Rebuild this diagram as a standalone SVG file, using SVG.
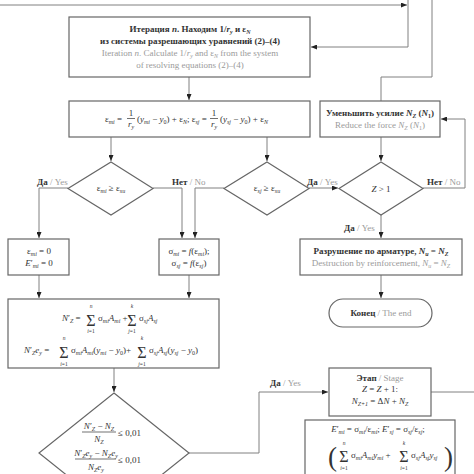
<svg xmlns="http://www.w3.org/2000/svg" width="474" height="474" viewBox="0 0 474 474">
<style>
.t{font-family:"Liberation Serif",serif;font-size:9px;fill:#333}
.c{text-anchor:middle}
.g{fill:#9a9a9a}
.b{font-weight:bold}
.i{font-style:italic}
.box{fill:#fff;stroke:#666;stroke-width:1.2}
.ln{fill:none;stroke:#808080;stroke-width:1}
.bar{stroke:#333;stroke-width:0.7}
.sg{font-size:16px;text-anchor:middle}
.lim{font-size:5.5px;text-anchor:middle}
.par{font-size:27px}
</style>
<defs>
<marker id="ah" markerWidth="6" markerHeight="5" refX="6" refY="2.5" orient="auto" markerUnits="userSpaceOnUse">
<path d="M0,0 L6,2.5 L0,5 z" fill="#222"/>
</marker>
</defs>
<rect width="474" height="474" fill="#fff"/>
<g id="connectors">
<path class="ln" d="M0,5 H407" marker-end="url(#ah)"/>
<path class="ln" d="M408,0 V47 H311" marker-end="url(#ah)"/>
<path class="ln" d="M432,0 V77 H381 V101"/>
<path class="ln" d="M189,77 V100" marker-end="url(#ah)"/>
<path class="ln" d="M111,137 V161" marker-end="url(#ah)"/>
<path class="ln" d="M267,137 V161" marker-end="url(#ah)"/>
<path class="ln" d="M68,188 H39 V238" marker-end="url(#ah)"/>
<path class="ln" d="M153,188 H182 V238" marker-end="url(#ah)"/>
<path class="ln" d="M224,188 H195 V238" marker-end="url(#ah)"/>
<path class="ln" d="M309,188 H338" marker-end="url(#ah)"/>
<path class="ln" d="M381,137 V161" marker-end="url(#ah)"/>
<path class="ln" d="M423,188 H465 V119 H441" marker-end="url(#ah)"/>
<path class="ln" d="M381,215 V238" marker-end="url(#ah)"/>
<path class="ln" d="M381,275 V298" marker-end="url(#ah)"/>
<path class="ln" d="M39,275 V298" marker-end="url(#ah)"/>
<path class="ln" d="M189,275 V298" marker-end="url(#ah)"/>
<path class="ln" d="M114,368 V392" marker-end="url(#ah)"/>
<path class="ln" d="M189,453 H259 V392 H328" marker-end="url(#ah)"/>
<path class="ln" d="M431,392 H474"/>
<text class="t" x="37" y="185"><tspan class="b">Да</tspan><tspan class="g"> / Yes</tspan></text>
<text class="t" x="172" y="185"><tspan class="b">Нет</tspan><tspan class="g"> / No</tspan></text>
<text class="t" x="307" y="185"><tspan class="b">Да</tspan><tspan class="g"> / Yes</tspan></text>
<text class="t" x="427" y="185"><tspan class="b">Нет</tspan><tspan class="g"> / No</tspan></text>
<text class="t" x="344" y="231"><tspan class="b">Да</tspan><tspan class="g"> / Yes</tspan></text>
<text class="t" x="270" y="386"><tspan class="b">Да</tspan><tspan class="g"> / Yes</tspan></text>
</g>
<g id="iteration">
<rect class="box" x="69" y="17" width="241" height="60"/>
<text class="t c b" x="190" y="32">Итерация <tspan class="i">n</tspan>. Находим 1/<tspan class="i">r</tspan><tspan class="i" font-size="6" baseline-shift="-2">y</tspan> и ε<tspan class="i" font-size="6" baseline-shift="-2">N</tspan></text>
<text class="t c b" x="190" y="44">из системы разрешающих уравнений (2)–(4)</text>
<text class="t c g" x="190" y="56">Iteration <tspan class="i">n</tspan>. Calculate 1/<tspan class="i">r</tspan><tspan class="i" font-size="6" baseline-shift="-2">y</tspan> and ε<tspan class="i" font-size="6" baseline-shift="-2">N</tspan> from the system</text>
<text class="t c g" x="190" y="68">of resolving equations (2)–(4)</text>
</g>
<g id="strain">
<rect class="box" x="69" y="101" width="241" height="36"/>
<text class="t" x="105" y="122">ε<tspan class="i" font-size="6" baseline-shift="-2">mi</tspan> =</text>
<text class="t c" x="131" y="116">1</text>
<line class="bar" x1="127" y1="118.5" x2="135" y2="118.5"/>
<text class="t c" x="131" y="127"><tspan class="i">r</tspan><tspan class="i" font-size="6" baseline-shift="-2">y</tspan></text>
<text class="t" x="137" y="122">(<tspan class="i">y</tspan><tspan class="i" font-size="6" baseline-shift="-2">mi</tspan> − <tspan class="i">y</tspan><tspan font-size="6" baseline-shift="-2">0</tspan>) + ε<tspan class="i" font-size="6" baseline-shift="-2">N</tspan>; ε<tspan class="i" font-size="6" baseline-shift="-2">sj</tspan> =</text>
<text class="t c" x="214" y="116">1</text>
<line class="bar" x1="210" y1="118.5" x2="218" y2="118.5"/>
<text class="t c" x="214" y="127"><tspan class="i">r</tspan><tspan class="i" font-size="6" baseline-shift="-2">y</tspan></text>
<text class="t" x="220" y="122">(<tspan class="i">y</tspan><tspan class="i" font-size="6" baseline-shift="-2">sj</tspan> − <tspan class="i">y</tspan><tspan font-size="6" baseline-shift="-2">0</tspan>) + ε<tspan class="i" font-size="6" baseline-shift="-2">N</tspan></text>
</g>
<g id="reduce">
<rect class="box" x="320" y="101" width="120" height="36"/>
<text class="t c b" x="380" y="116">Уменьшить усилие <tspan class="i">N</tspan><tspan class="i" font-size="6" baseline-shift="-2">Z</tspan> (<tspan class="i">N</tspan><tspan font-size="6" baseline-shift="-2">1</tspan>)</text>
<text class="t c g" x="380" y="128">Reduce the force <tspan class="i">N</tspan><tspan class="i" font-size="6" baseline-shift="-2">Z</tspan> (<tspan class="i">N</tspan><tspan font-size="6" baseline-shift="-2">1</tspan>)</text>
</g>
<g id="d1">
<polygon class="box" points="111,162 153,188.5 111,215 68,188.5"/>
<text class="t c" x="111" y="191">ε<tspan class="i" font-size="6" baseline-shift="-2">mi</tspan> ≥ ε<tspan class="i" font-size="6" baseline-shift="-2">su</tspan></text>
</g>
<g id="d2">
<polygon class="box" points="267,162 309,188.5 267,215 224,188.5"/>
<text class="t c" x="267" y="191">ε<tspan class="i" font-size="6" baseline-shift="-2">sj</tspan> ≥ ε<tspan class="i" font-size="6" baseline-shift="-2">su</tspan></text>
</g>
<g id="d3">
<polygon class="box" points="381,162 423,188.5 381,215 339,188.5"/>
<text class="t c" x="381" y="192"><tspan class="i">Z</tspan> &gt; 1</text>
</g>
<g id="eps0">
<rect class="box" x="8" y="239" width="61" height="36"/>
<text class="t c" x="39" y="254">ε<tspan class="i" font-size="6" baseline-shift="-2">mi</tspan> = 0</text>
<text class="t c" x="39" y="266"><tspan class="i">E</tspan>′<tspan class="i" font-size="6" baseline-shift="-2">mi</tspan> = 0</text>
</g>
<g id="sigma">
<rect class="box" x="159" y="239" width="60" height="36"/>
<text class="t c" x="189" y="254">σ<tspan class="i" font-size="6" baseline-shift="-2">mi</tspan> = <tspan class="i">f</tspan>(ε<tspan class="i" font-size="6" baseline-shift="-2">mi</tspan>);</text>
<text class="t c" x="189" y="266">σ<tspan class="i" font-size="6" baseline-shift="-2">sj</tspan> = <tspan class="i">f</tspan>(ε<tspan class="i" font-size="6" baseline-shift="-2">sj</tspan>)</text>
</g>
<g id="destruction">
<rect class="box" x="300" y="239" width="162" height="36"/>
<text class="t c b" x="381" y="254">Разрушение по арматуре, <tspan class="i">N</tspan><tspan class="i" font-size="6" baseline-shift="-2">u</tspan> = <tspan class="i">N</tspan><tspan class="i" font-size="6" baseline-shift="-2">Z</tspan></text>
<text class="t c g" x="381" y="266">Destruction by reinforcement, <tspan class="i">N</tspan><tspan class="i" font-size="6" baseline-shift="-2">u</tspan> = <tspan class="i">N</tspan><tspan class="i" font-size="6" baseline-shift="-2">Z</tspan></text>
</g>
<g id="end">
<rect class="box" x="329" y="299" width="103" height="28" rx="14"/>
<text class="t c" x="381" y="316"><tspan class="b">Конец</tspan><tspan class="g"> / The end</tspan></text>
</g>
<g id="equilibrium">
<rect class="box" x="8" y="299" width="211" height="69"/>
<text class="t" x="62" y="321"><tspan class="i">N</tspan>′<tspan class="i" font-size="6" baseline-shift="-2">Z</tspan> =</text>
<text class="t sg" x="91" y="326">Σ</text>
<text class="t lim i" x="91" y="308">n</text>
<text class="t lim" x="91" y="333"><tspan class="i">i</tspan>=1</text>
<text class="t" x="98" y="321">σ<tspan class="i" font-size="6" baseline-shift="-2">mi</tspan><tspan class="i">A</tspan><tspan class="i" font-size="6" baseline-shift="-2">mi</tspan> +</text>
<text class="t sg" x="132" y="326">Σ</text>
<text class="t lim i" x="132" y="308">k</text>
<text class="t lim" x="132" y="333"><tspan class="i">j</tspan>=1</text>
<text class="t" x="139" y="321">σ<tspan class="i" font-size="6" baseline-shift="-2">sj</tspan><tspan class="i">A</tspan><tspan class="i" font-size="6" baseline-shift="-2">sj</tspan></text>
<text class="t" x="24" y="353"><tspan class="i">N</tspan>′<tspan class="i" font-size="6" baseline-shift="-2">Z</tspan><tspan class="i">e</tspan><tspan class="i" font-size="6" baseline-shift="-2">y</tspan> =</text>
<text class="t sg" x="64" y="358">Σ</text>
<text class="t lim i" x="64" y="340">n</text>
<text class="t lim" x="64" y="365.5"><tspan class="i">i</tspan>=1</text>
<text class="t" x="71" y="353">σ<tspan class="i" font-size="6" baseline-shift="-2">mi</tspan><tspan class="i">A</tspan><tspan class="i" font-size="6" baseline-shift="-2">mi</tspan>(<tspan class="i">y</tspan><tspan class="i" font-size="6" baseline-shift="-2">mi</tspan> − <tspan class="i">y</tspan><tspan font-size="6" baseline-shift="-2">0</tspan>)+</text>
<text class="t sg" x="142" y="358">Σ</text>
<text class="t lim i" x="142" y="340">k</text>
<text class="t lim" x="142" y="365.5"><tspan class="i">j</tspan>=1</text>
<text class="t" x="149" y="353">σ<tspan class="i" font-size="6" baseline-shift="-2">sj</tspan><tspan class="i">A</tspan><tspan class="i" font-size="6" baseline-shift="-2">sj</tspan>(<tspan class="i">y</tspan><tspan class="i" font-size="6" baseline-shift="-2">sj</tspan> − <tspan class="i">y</tspan><tspan font-size="6" baseline-shift="-2">0</tspan>)</text>
</g>
<g id="d4">
<polygon class="box" points="114,393 189,453 114,513 39,453"/>
<text class="t c" x="99" y="429"><tspan class="i">N</tspan>′<tspan class="i" font-size="6" baseline-shift="-2">Z</tspan> − <tspan class="i">N</tspan><tspan class="i" font-size="6" baseline-shift="-2">Z</tspan></text>
<line class="bar" x1="82" y1="432" x2="116" y2="432"/>
<text class="t c" x="99" y="442"><tspan class="i">N</tspan><tspan class="i" font-size="6" baseline-shift="-2">Z</tspan></text>
<text class="t" x="118" y="436">≤ 0,01</text>
<text class="t c" x="96" y="456"><tspan class="i">N</tspan>′<tspan class="i" font-size="6" baseline-shift="-2">Z</tspan><tspan class="i">e</tspan><tspan class="i" font-size="6" baseline-shift="-2">y</tspan> − <tspan class="i">N</tspan><tspan class="i" font-size="6" baseline-shift="-2">Z</tspan><tspan class="i">e</tspan><tspan class="i" font-size="6" baseline-shift="-2">y</tspan></text>
<line class="bar" x1="75" y1="459" x2="116" y2="459"/>
<text class="t c" x="96" y="470"><tspan class="i">N</tspan><tspan class="i" font-size="6" baseline-shift="-2">Z</tspan><tspan class="i">e</tspan><tspan class="i" font-size="6" baseline-shift="-2">y</tspan></text>
<text class="t" x="118" y="463">≤ 0,01</text>
</g>
<g id="stage">
<rect class="box" x="329" y="368" width="102" height="48"/>
<text class="t c" x="380" y="381"><tspan class="b">Этап</tspan><tspan class="g"> / Stage</tspan></text>
<text class="t c" x="380" y="392"><tspan class="i">Z</tspan> = <tspan class="i">Z</tspan> + 1:</text>
<text class="t c" x="380" y="404"><tspan class="i">N</tspan><tspan class="i" font-size="6" baseline-shift="-2">Z+1</tspan> = Δ<tspan class="i">N</tspan> + <tspan class="i">N</tspan><tspan class="i" font-size="6" baseline-shift="-2">Z</tspan></text>
</g>
<g id="modulus">
<rect class="box" x="305" y="420" width="150" height="70"/>
<text class="t c" x="378" y="432"><tspan class="i">E</tspan>′<tspan class="i" font-size="6" baseline-shift="-2">mi</tspan> = σ<tspan class="i" font-size="6" baseline-shift="-2">mi</tspan>/ε<tspan class="i" font-size="6" baseline-shift="-2">mi</tspan>; <tspan class="i">E</tspan>′<tspan class="i" font-size="6" baseline-shift="-2">sj</tspan> = σ<tspan class="i" font-size="6" baseline-shift="-2">sj</tspan>/ε<tspan class="i" font-size="6" baseline-shift="-2">sj</tspan>;</text>
<text class="t par" x="328" y="466">(</text>
<text class="t sg" x="344" y="462">Σ</text>
<text class="t lim i" x="344" y="445">n</text>
<text class="t lim" x="344" y="470"><tspan class="i">i</tspan>=1</text>
<text class="t" x="351" y="458">σ<tspan class="i" font-size="6" baseline-shift="-2">mi</tspan><tspan class="i">A</tspan><tspan class="i" font-size="6" baseline-shift="-2">mi</tspan><tspan class="i">y</tspan><tspan class="i" font-size="6" baseline-shift="-2">mi</tspan> +</text>
<text class="t sg" x="404" y="462">Σ</text>
<text class="t lim i" x="404" y="445">k</text>
<text class="t lim" x="404" y="470"><tspan class="i">i</tspan>=1</text>
<text class="t" x="411" y="458">σ<tspan class="i" font-size="6" baseline-shift="-2">sj</tspan><tspan class="i">A</tspan><tspan class="i" font-size="6" baseline-shift="-2">sj</tspan><tspan class="i">y</tspan><tspan class="i" font-size="6" baseline-shift="-2">sj</tspan></text>
<text class="t par" x="444" y="466">)</text>
</g>
</svg>
